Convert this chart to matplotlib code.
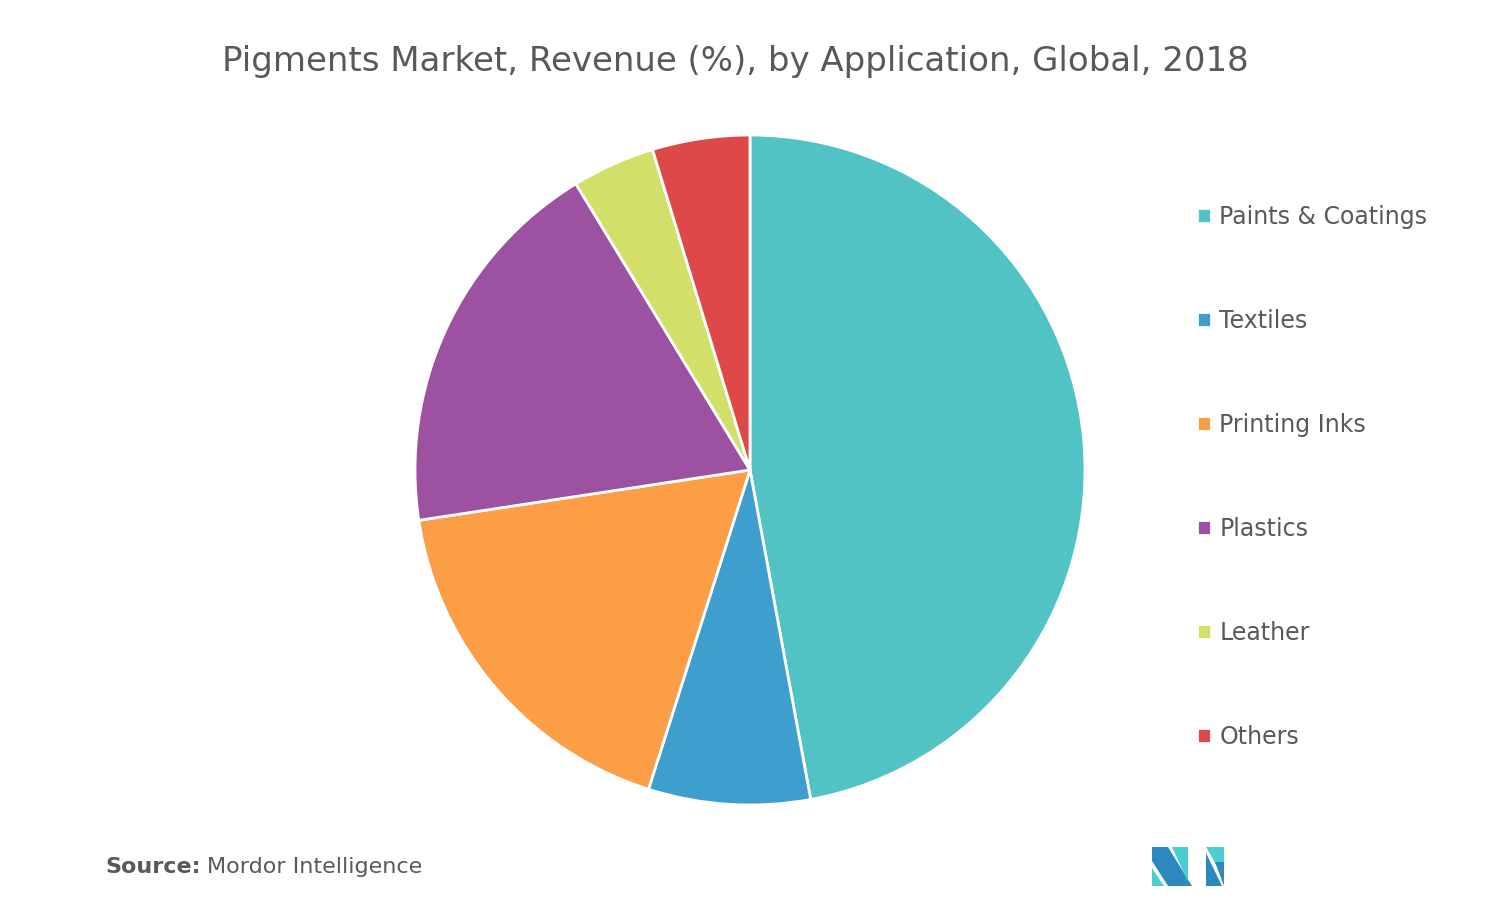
import matplotlib
matplotlib.use("Agg")
import matplotlib.pyplot as plt
from matplotlib.patches import Polygon

# data
labels = ["Paints & Coatings", "Textiles", "Printing Inks", "Plastics", "Leather", "Others"]
shares = [47.1, 7.8, 17.7, 18.7, 4.0, 4.7]
colors = ["#52C3C5", "#3E9FCE", "#FB9E45", "#9C52A0", "#D2E06A", "#DF4848"]

W, H = 1489, 902
fig = plt.figure(figsize=(W / 100, H / 100), dpi=100)
fig.patch.set_facecolor("white")

# pie axes: centre (750, 470) px, radius ~335 px
cx, cy, r = 750, 470, 335
ax = fig.add_axes([(cx - r) / W, (H - cy - r) / H, 2 * r / W, 2 * r / H])
wedges, _ = ax.pie(shares, colors=colors, startangle=90, counterclock=False,
                   radius=1.0, wedgeprops=dict(edgecolor="white", linewidth=2))
ax.set_xlim(-1.0, 1.0)
ax.set_ylim(-1.0, 1.0)
ax.set_aspect("equal")
ax.axis("off")

grey = "#595959"
fig.text(735 / W, 1 - 62 / H, "Pigments Market, Revenue (%), by Application, Global, 2018",
         ha="center", va="center", fontsize=24.5, color=grey)

leg = fig.legend(wedges, labels, loc="upper left",
                 bbox_to_anchor=(1197 / W, 1 - 205 / H), frameon=False,
                 fontsize=17, labelcolor=grey, handlelength=0.6, handleheight=0.6,
                 handletextpad=0.35, labelspacing=3.39, borderpad=0, borderaxespad=0)

fig.text(105 / W, 1 - 867 / H, "Source:", fontsize=16, fontweight="bold",
         color=grey, ha="left", va="center")
fig.text(207 / W, 1 - 867 / H, "Mordor Intelligence", fontsize=16,
         color=grey, ha="left", va="center")

# logo
def px(pts):
    return [(x / W, 1 - y / H) for x, y in pts]

teal, dblue = "#4CCDD1", "#2D88BE"
logo = [
    (px([(1152, 868), (1152, 886), (1164, 886)]), teal),
    (px([(1152, 847), (1168, 847), (1192, 886), (1168, 886), (1152, 861)]), dblue),
    (px([(1172, 847), (1188, 847), (1188, 882)]), teal),
    (px([(1206, 847), (1224, 847), (1224, 878)]), teal),
    (px([(1206, 853), (1222, 886), (1206, 886)]), dblue),
    (px([(1215, 862), (1224, 862), (1224, 886)]), dblue),
]
for pts, c in logo:
    fig.patches.append(Polygon(pts, closed=True, facecolor=c, edgecolor="none",
                               transform=fig.transFigure, figure=fig))

fig.savefig("out.png", dpi=100)
